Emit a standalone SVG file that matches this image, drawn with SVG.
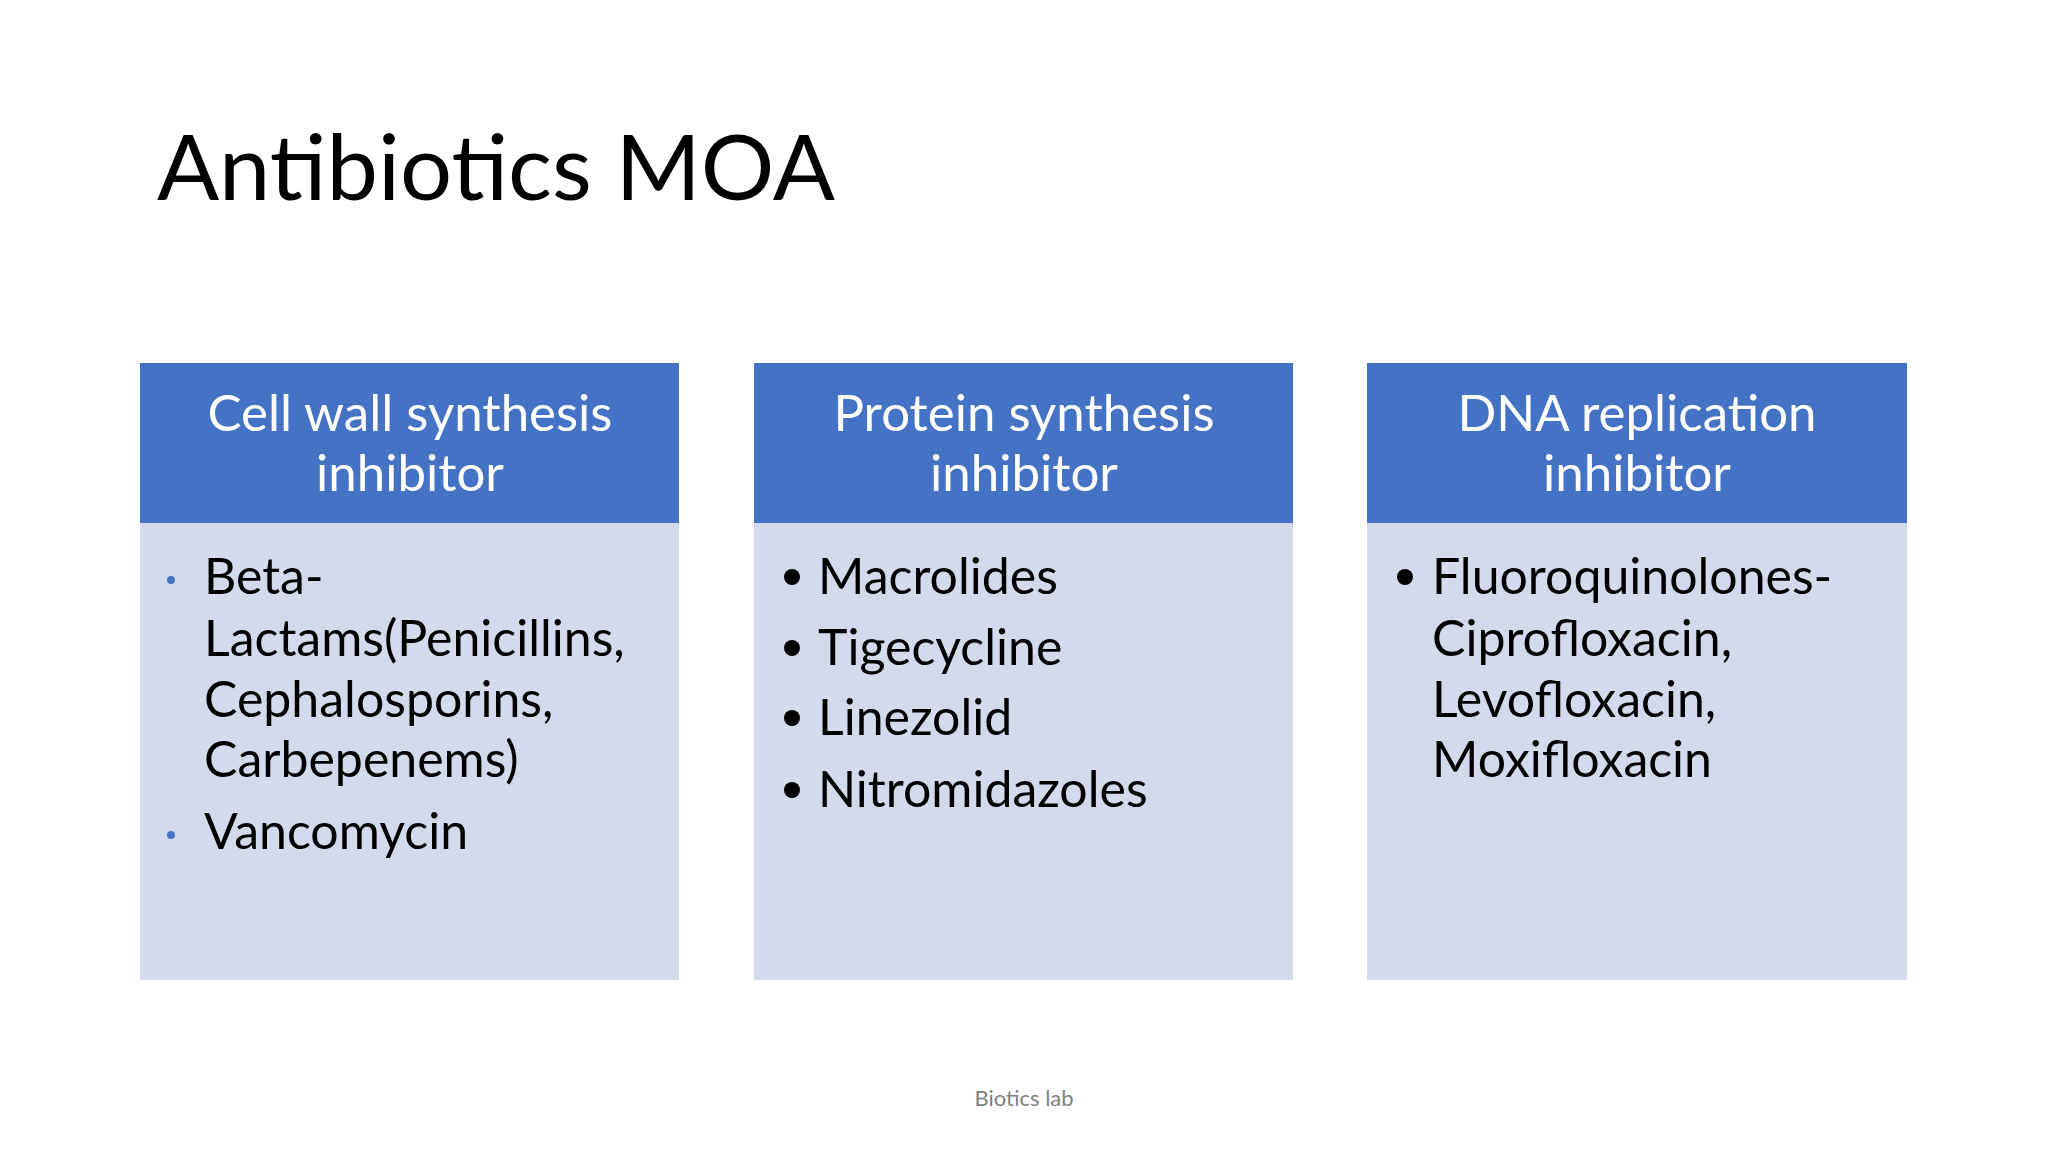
<svg xmlns="http://www.w3.org/2000/svg" width="2048" height="1152" viewBox="0 0 2048 1152">
<style>
.h{fill:#4472C4}.b{fill:#D3DAEC}
.ht{font-family:Lato,"Open Sans",sans-serif;font-size:51px;fill:#fff;text-anchor:middle}
.bt{font-family:Lato,"Open Sans",sans-serif;font-size:50px;fill:#000}
.bk{font-family:Lato,sans-serif;font-size:50px;fill:#000}
</style>
<rect width="2048" height="1152" fill="#fff"/>
<text x="157" y="200" font-family="Lato,'Open Sans',sans-serif" font-size="92" fill="#000">Antibiotics MOA</text>
<g id="col1">
<rect class="h" x="140" y="363" width="539" height="160"/>
<rect class="b" x="140" y="523" width="539" height="457"/>
<text class="ht" x="410" y="431">Cell wall synthesis</text>
<text class="ht" x="410" y="491">inhibitor</text>
<circle cx="171" cy="580" r="4" fill="#4472C4"/>
<circle cx="171" cy="835" r="4" fill="#4472C4"/>
<text class="bt" x="204" y="594">Beta-</text>
<text class="bt" x="204" y="656">Lactams(Penicillins,</text>
<text class="bt" x="204" y="717">Cephalosporins,</text>
<text class="bt" x="204" y="777">Carbepenems)</text>
<text class="bt" x="204" y="849">Vancomycin</text>
</g>
<g id="col2">
<rect class="h" x="754" y="363" width="539" height="160"/>
<rect class="b" x="754" y="523" width="539" height="457"/>
<text class="ht" x="1024" y="431">Protein synthesis</text>
<text class="ht" x="1024" y="491">inhibitor</text>
<circle cx="792" cy="577" r="8" fill="#000"/>
<circle cx="792" cy="648" r="8" fill="#000"/>
<circle cx="792" cy="718" r="8" fill="#000"/>
<circle cx="792" cy="790" r="8" fill="#000"/>
<text class="bt" x="818" y="594">Macrolides</text>
<text class="bt" x="818" y="665">Tigecycline</text>
<text class="bt" x="818" y="735">Linezolid</text>
<text class="bt" x="818" y="807">Nitromidazoles</text>
</g>
<g id="col3">
<rect class="h" x="1367" y="363" width="540" height="160"/>
<rect class="b" x="1367" y="523" width="540" height="457"/>
<text class="ht" x="1637" y="431">DNA replication</text>
<text class="ht" x="1637" y="491">inhibitor</text>
<circle cx="1405" cy="577" r="8" fill="#000"/>
<text class="bt" x="1432" y="594">Fluoroquinolones-</text>
<text class="bt" x="1432" y="656">Ciprofloxacin,</text>
<text class="bt" x="1432" y="717">Levofloxacin,</text>
<text class="bt" x="1432" y="777">Moxifloxacin</text>
</g>
<g id="connectors"/>
<text x="1024" y="1106" font-family="Lato,'Open Sans',sans-serif" font-size="22" fill="#7f7f7f" text-anchor="middle">Biotics lab</text>
</svg>
